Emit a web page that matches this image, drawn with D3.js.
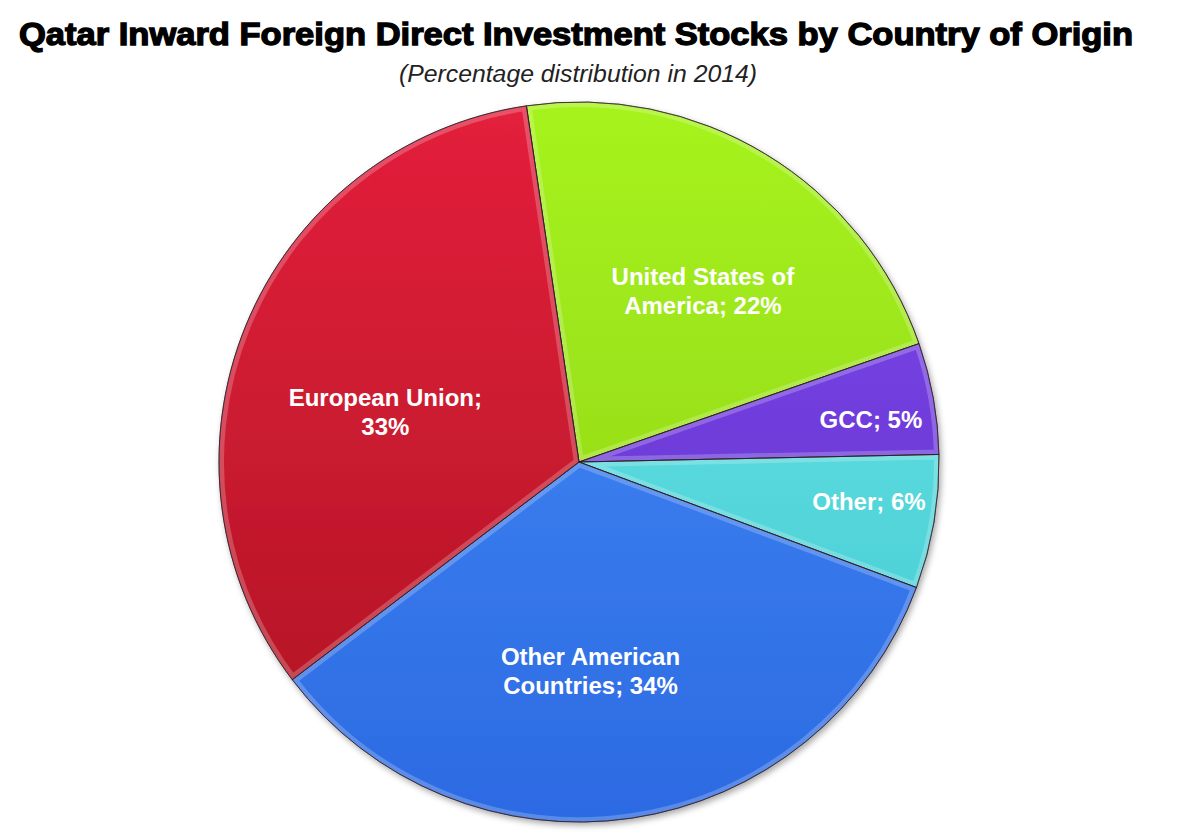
<!DOCTYPE html>
<html><head><meta charset="utf-8">
<script src="https://cdn.jsdelivr.net/npm/d3@7"></script>
<style>body{margin:0;background:#fff}svg{display:block}</style>
</head><body>
<script>
const categories = ["United States of America", "GCC", "Other", "Other American Countries", "European Union"];
const values = [22, 5, 6, 34, 33];
const labelLines = [["United States of", "America; 22%"], ["GCC; 5%"], ["Other; 6%"], ["Other American", "Countries; 34%"], ["European Union;", "33%"]];
const title = "Qatar Inward Foreign Direct Investment Stocks by Country of Origin";
const subtitle = "(Percentage distribution in 2014)";

const colorsTop = ["#a6f31f", "#8048ec", "#6ae8e8", "#468ef9", "#e4203c"];
const colorsBot = ["#8ccc12", "#5c30c8", "#42c8d0", "#2c6ae2", "#ac1422"];
const labelR = [0.60, 0.79, 0.80, 0.58, 0.56];
const labelNudge = [[12, 14], [12, 8], [6, -8], [-19, 3], [-7, 27]];

const W = 1200, H = 838, cx = 579, cy = 462, R = 360;
const svg = d3.select("body").append("svg").attr("width", W).attr("height", H);
const defs = svg.append("defs");

const f = defs.append("filter").attr("id", "sh").attr("x", "-10%").attr("y", "-10%").attr("width", "120%").attr("height", "120%");
f.append("feDropShadow").attr("dx", 2).attr("dy", 3).attr("stdDeviation", 3).attr("flood-color", "#000").attr("flood-opacity", 0.35);

categories.forEach((c, i) => {
  const g = defs.append("linearGradient").attr("id", "g" + i).attr("gradientUnits", "userSpaceOnUse")
    .attr("x1", 0).attr("y1", -R).attr("x2", 0).attr("y2", R);
  g.append("stop").attr("offset", "0%").attr("stop-color", colorsTop[i]);
  g.append("stop").attr("offset", "100%").attr("stop-color", colorsBot[i]);
});

svg.append("text").attr("x", 576).attr("y", 45).attr("text-anchor", "middle")
  .attr("font-family", "Liberation Sans, Arial, sans-serif").attr("font-weight", "bold").attr("font-size", 31)
  .attr("stroke", "#000").attr("stroke-width", 1.3).attr("fill", "#000")
  .attr("textLength", 1114).attr("lengthAdjust", "spacingAndGlyphs").text(title);
svg.append("text").attr("x", 578).attr("y", 82).attr("text-anchor", "middle")
  .attr("font-family", "Liberation Sans, Arial, sans-serif").attr("font-style", "italic").attr("font-size", 23)
  .attr("fill", "#222").attr("textLength", 358).attr("lengthAdjust", "spacingAndGlyphs").text(subtitle);

const toRad = Math.PI / 180;
const pie = d3.pie().sort(null).startAngle(-8.4 * toRad).endAngle((360 - 8.4) * toRad);
const arcs = pie(values);
const arc = d3.arc().innerRadius(0).outerRadius(R);

const g = svg.append("g").attr("transform", `translate(${cx},${cy})`);
const gp = g.append("g").attr("filter", "url(#sh)");
gp.selectAll("path.s").data(arcs).join("path").attr("class", "s")
  .attr("d", arc)
  .attr("fill", (d, i) => `url(#g${i})`)
  .attr("stroke", "rgba(40,20,30,0.7)").attr("stroke-width", 1);

// bevel highlight
arcs.forEach((d, i) => {
  const cp = defs.append("clipPath").attr("id", "c" + i);
  cp.append("path").attr("d", arc(d));
  g.append("path").attr("d", arc(d)).attr("clip-path", `url(#c${i})`)
    .attr("fill", "none").attr("stroke", "rgba(255,255,255,0.22)").attr("stroke-width", 10);
  g.append("path").attr("d", arc(d)).attr("fill", "none")
    .attr("stroke", "rgba(30,10,20,0.55)").attr("stroke-width", 1);
});

arcs.forEach((d, i) => {
  const a = (d.startAngle + d.endAngle) / 2;
  const r = R * labelR[i];
  const x = Math.sin(a) * r + labelNudge[i][0];
  const y = -Math.cos(a) * r + labelNudge[i][1];
  const lines = labelLines[i];
  const t = g.append("text").attr("text-anchor", "middle")
    .attr("font-family", "Liberation Sans, Arial, sans-serif").attr("font-weight", "bold")
    .attr("font-size", 24).attr("fill", "#fff");
  lines.forEach((l, k) => {
    t.append("tspan").attr("x", x).attr("y", y + (k - (lines.length - 1) / 2) * 29 + 8).text(l);
  });
});
</script>
</body></html>
